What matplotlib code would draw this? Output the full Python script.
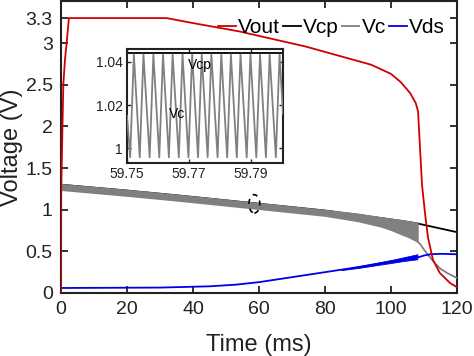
import matplotlib
matplotlib.use("Agg")
import matplotlib.pyplot as plt
import numpy as np
from matplotlib.patches import Ellipse

plt.rcParams['font.family'] = ['Liberation Sans', 'DejaVu Sans']

# Vout (red)
t_out = [0, 0.05, 0.2, 0.7, 1.2, 1.7, 2.4, 32, 40, 54, 74, 94, 100, 103, 105.8,
         107.5, 108.2, 109.4, 110.3, 111.2, 112.7, 114.8, 117.9, 120]
v_out = [0, 1.2, 1.5, 2.5, 2.8, 3.0, 3.3, 3.3, 3.24, 3.14, 2.96, 2.74, 2.63, 2.53, 2.40,
         2.28, 2.18, 1.30, 0.96, 0.67, 0.40, 0.24, 0.12, 0.07]

# Vcp (black)
t_cp = [0.05, 20, 34.5, 42, 58, 80, 97, 104, 108, 112, 116, 120]
v_cp = [1.30, 1.23, 1.175, 1.145, 1.08, 0.99, 0.90, 0.86, 0.835, 0.80, 0.765, 0.73]

# Vc switching band (grey) upper / lower envelope
t_band = [0.05, 20, 34.5, 42, 58, 80, 90, 97, 100, 103, 105, 108]
v_band_hi = [1.305, 1.235, 1.18, 1.15, 1.085, 0.995, 0.95, 0.905, 0.89, 0.875, 0.86, 0.84]
v_band_lo = [1.24, 1.17, 1.115, 1.085, 1.02, 0.93, 0.865, 0.80, 0.76, 0.71, 0.68, 0.62]

# Vc start-up step and decay after switching stops
t_c_start = [0, 0.05]
v_c_start = [0, 1.27]
t_c = [108, 109, 110, 111, 112, 113, 114, 115, 117, 120]
v_c = [0.62, 0.58, 0.52, 0.47, 0.42, 0.37, 0.33, 0.29, 0.24, 0.18]

# Vds (blue)
t_ds = [0, 30, 45, 53, 60, 65, 70, 80, 90, 97, 103, 108, 108.5, 110, 112, 115, 120]
v_ds = [0.06, 0.065, 0.08, 0.10, 0.13, 0.16, 0.19, 0.25, 0.31, 0.36, 0.40, 0.435,
        0.43, 0.45, 0.465, 0.47, 0.465]
t_ds_band = [85, 90, 95, 100, 104, 108]
v_ds_hi = [0.285, 0.32, 0.355, 0.395, 0.43, 0.465]
v_ds_lo = [0.275, 0.30, 0.33, 0.36, 0.385, 0.405]

# inset: zoom around 59.77 ms
t_in_c = [59.7500, 59.7510, 59.7522, 59.7541, 59.7553, 59.7573, 59.7585, 59.7604, 59.7616,
          59.7635, 59.7647, 59.7667, 59.7679, 59.7698, 59.7710, 59.7729, 59.7741, 59.7760,
          59.7772, 59.7792, 59.7804, 59.7823, 59.7835, 59.7854, 59.7866, 59.7886, 59.7898,
          59.7917, 59.7929, 59.7948, 59.7960, 59.7980, 59.7992, 59.8003]
v_in_c = [1.015, 0.9958, 1.0435, 0.9958, 1.0435, 0.9958, 1.0435, 0.9958, 1.0435,
          0.9958, 1.0435, 0.9958, 1.0435, 0.9958, 1.0435, 0.9958, 1.0435, 0.9958,
          1.0435, 0.9958, 1.0435, 0.9958, 1.0435, 0.9958, 1.0435, 0.9958, 1.0435,
          0.9958, 1.0435, 0.9958, 1.0435, 0.9958, 1.0435, 1.016]
t_in_cp = [59.75, 59.8003]
v_in_cp = [1.0442, 1.0442]

red = "#d00000"
blue = "#0000e6"
grey = "#808080"

fig = plt.figure(figsize=(4.74, 3.56), dpi=100)
ax = fig.add_axes([0.1287, 0.177, 0.8354, 0.819])

ax.plot(t_cp, v_cp, color="black", lw=1.3, label="Vcp", zorder=2)
ax.fill_between(t_band, v_band_lo, v_band_hi, color=grey, lw=1.2, edgecolor=grey, zorder=3)
ax.plot(t_c_start, v_c_start, color=grey, lw=1.3, zorder=3)
ax.plot(t_c, v_c, color=grey, lw=1.3, label="Vc", zorder=3)
ax.fill_between(t_ds_band, v_ds_lo, v_ds_hi, color=blue, lw=0.6, edgecolor=blue, zorder=4)
ax.plot(t_ds, v_ds, color=blue, lw=1.3, label="Vds", zorder=4)
ax.plot(t_out, v_out, color=red, lw=1.3, label="Vout", zorder=5)

ax.add_patch(Ellipse((58.6, 1.07), 3.3, 0.22, fill=False, ec="black", lw=1.2,
                     ls=(0, (3, 3)), zorder=6))

ax.set_xlim(0, 120)
ax.set_ylim(0, 3.5)
ax.set_xticks([0, 20, 40, 60, 80, 100, 120])
ax.set_yticks([0, 0.5, 1, 1.5, 2, 2.5, 3, 3.3])
ax.set_yticklabels(["0", "0.5", "1", "1.5", "2", "2.5", "3", "3.3"])
ax.tick_params(direction="in", top=True, right=True, labelsize=14, length=5,
               width=1.3, colors="#222222", pad=6)
for s in ax.spines.values():
    s.set_linewidth(1.5)
    s.set_color("#222222")
ax.set_xlabel("Time (ms)", fontsize=17, color="#222222")
ax.set_ylabel("Voltage (V)", fontsize=17, color="#222222")
ax.yaxis.set_label_coords(-0.097, 0.5)
ax.xaxis.set_label_coords(0.5, -0.14)

h, l = ax.get_legend_handles_labels()
order = [l.index(n) for n in ["Vout", "Vcp", "Vc", "Vds"]]
ax.legend([h[i] for i in order], [l[i] for i in order], loc="upper right", ncol=4,
          frameon=False, fontsize=15, handlelength=0.85, handletextpad=0.1,
          columnspacing=0.15, borderaxespad=0.2, bbox_to_anchor=(1.0, 0.985))

# inset
ins = fig.add_axes([0.268, 0.543, 0.329, 0.318])
ins.plot(t_in_cp, v_in_cp, color="black", lw=1.3, zorder=2)
ins.plot(t_in_c, v_in_c, color=grey, lw=1.3, zorder=3)
ins.set_xlim(59.75, 59.8003)
ins.set_ylim(0.9933, 1.0458)
ins.set_xticks([59.75, 59.77, 59.79])
ins.set_xticklabels(["59.75", "59.77", "59.79"])
ins.set_yticks([1.0, 1.02, 1.04])
ins.set_yticklabels(["1", "1.02", "1.04"])
ins.tick_params(direction="in", top=True, right=True, labelsize=10, length=3,
                width=1, colors="#222222", pad=3)
for s in ins.spines.values():
    s.set_linewidth(1.5)
    s.set_color("#222222")
ins.text(59.7698, 1.0386, "Vcp", fontsize=10, va="center", ha="left", zorder=5)
ins.text(59.7635, 1.0158, "Vc", fontsize=10, va="center", ha="left", zorder=5)

fig.savefig("out.png", dpi=100)
